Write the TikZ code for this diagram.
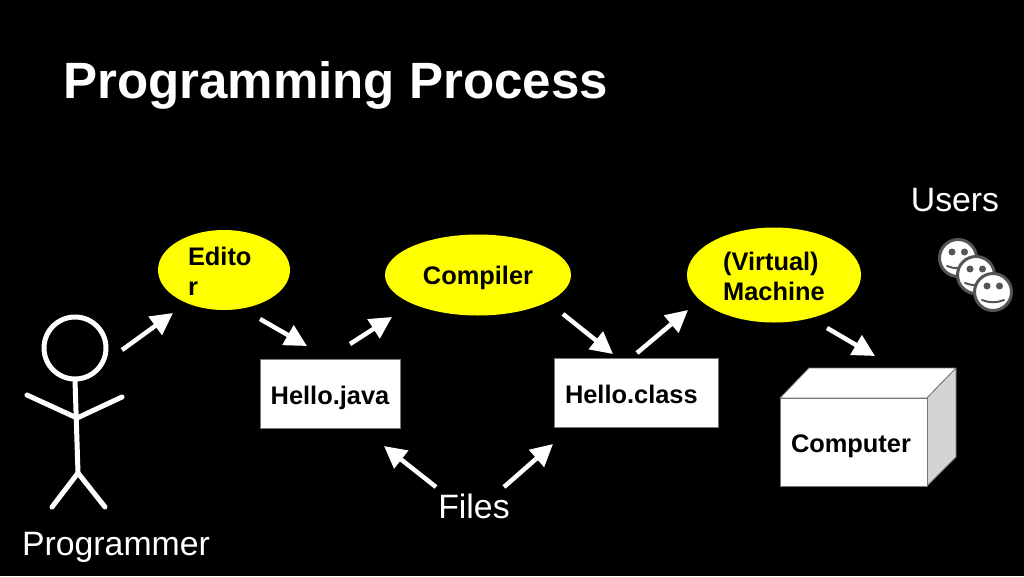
\documentclass[tikz,border=0pt]{standalone}
\usepackage{fontspec}
\setmainfont{Liberation Sans}
\usetikzlibrary{shapes.geometric,arrows.meta}
\definecolor{slideyellow}{RGB}{255,255,0}
\definecolor{edgegray}{RGB}{120,120,120}
\definecolor{sidegray}{RGB}{212,212,212}
\definecolor{facegray}{RGB}{85,85,85}
\newcommand{\dn}[2]{\raisebox{-#1}[\height][\depth]{#2}}
\tikzset{
  x=1pt,y=-1pt,
  bubble/.style={shape=ellipse,fill=slideyellow,draw=none,inner sep=0pt,font=\fontsize{25.4}{30}\bfseries,align=left,text=black},
  filebox/.style={shape=rectangle,fill=white,draw=edgegray,line width=0.8pt,inner sep=0pt,font=\fontsize{25.4}{30}\bfseries,align=left,text=black},
  flow/.style={draw=white,line width=4.5pt,-{Triangle[width=22pt,length=22pt]}},
  stick/.style={draw=white,line width=5pt,line cap=round,line join=round},
  caption/.style={text=white,font=\fontsize{33.8}{38}\selectfont,inner sep=0pt},
  smiley/.style={fill=white,draw=facegray,line width=3pt},
}
\begin{document}
\begin{tikzpicture}
\useasboundingbox (0,0) rectangle (1024,576);
\fill[black] (0,0) rectangle (1024,576);

\node[text=white,font=\fontsize{51.05}{56}\bfseries,inner sep=0pt,anchor=base west] (title) at (63,98) {Programming Process};

% process bubbles
\node[bubble,minimum width=132pt,minimum height=80pt,text width=72pt] (editor) at (224,270) {\dn{1.5pt}{Edito}\\\dn{1.5pt}{r}};
\node[bubble,minimum width=186pt,minimum height=81pt] (compiler) at (478,275) {\dn{3pt}{Compiler}};
\node[bubble,minimum width=174pt,minimum height=95pt] (machine) at (774,275) {\dn{1pt}{(Virtual)}\\\dn{1pt}{Machine}};

% files
\node[filebox,minimum width=140pt,minimum height=69pt] (java) at (330,394) {\dn{4pt}{Hello.java}};
\node[filebox,minimum width=164pt,minimum height=69pt,text width=142pt] (class) at (636,392.5) {\dn{2pt}{Hello.class}};

% computer box
\fill[white,draw=edgegray,line width=0.8pt,line join=round] (780,398) -- (809,368) -- (956,368) -- (927,398) -- cycle;
\fill[sidegray,draw=edgegray,line width=0.8pt,line join=round] (927,398) -- (956,368) -- (956,457) -- (927,486) -- cycle;
\node[filebox,minimum width=147pt,minimum height=88pt,text width=125pt] (computer) at (853.5,442) {\dn{4pt}{Computer}};

% programmer
\draw[stick] (75,348) circle (31);
\draw[stick] (75,380) -- (78,473);
\draw[stick] (27,395) -- (77,418) -- (122,397);
\draw[stick] (52,507) -- (78,473) -- (105,507);

% users
\foreach \cx/\cy in {958/258,976/275,993/292}{
  \begin{scope}[shift={(\cx,\cy)}]
    \draw[smiley] (0,0) circle (18.5);
    \fill[facegray] (-6,-6) circle (3.5);
    \fill[facegray] (6.5,-6) circle (3.5);
    \draw[facegray,line width=2pt,line cap=round] (-11,8) .. controls (-4,11) and (4,11) .. (11,8);
  \end{scope}
}

% labels
\node[caption] (users) at (955,200) {Users};
\node[caption] (files) at (474,506) {Files};
\node[caption] (programmer) at (116,547) {Programmer};

% arrow ends
\coordinate (a1s) at (122,350); \coordinate (a1e) at (173,313);
\coordinate (a2s) at (260,319); \coordinate (a2e) at (307,346);
\coordinate (a3s) at (350,344); \coordinate (a3e) at (392,317);
\coordinate (a4s) at (563,314); \coordinate (a4e) at (613,354);
\coordinate (a5s) at (637,353); \coordinate (a5e) at (688,310);
\coordinate (a6s) at (827,328); \coordinate (a6e) at (875,356);
\coordinate (a7s) at (436,487); \coordinate (a7e) at (384,446);
\coordinate (a8s) at (504,487); \coordinate (a8e) at (553,444);
\foreach \n in {1,...,8}{ \draw[flow] (a\n s) -- (a\n e); }
\end{tikzpicture}
\end{document}
